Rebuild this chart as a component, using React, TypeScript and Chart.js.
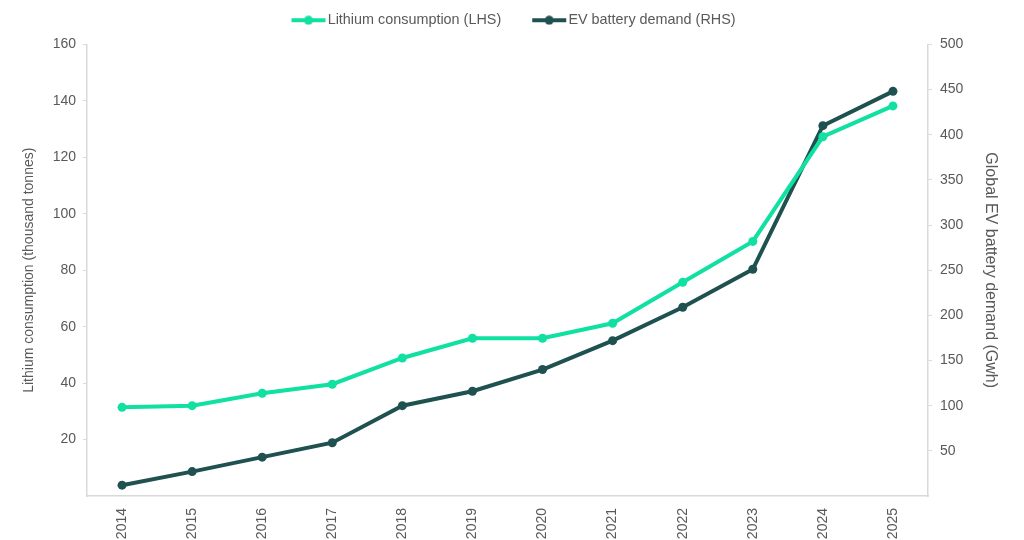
import { useEffect, useRef } from 'react';
import { Chart, registerables } from 'chart.js';

Chart.register(...registerables);

const years = ['2014', '2015', '2016', '2017', '2018', '2019', '2020', '2021', '2022', '2023', '2024', '2025'];
const lithiumConsumption = [31.4, 32, 36.4, 39.6, 48.9, 55.9, 55.9, 61.2, 75.7, 90.2, 127.3, 138.2];
const evBatteryDemand = [12, 27, 43, 59, 100, 116, 140, 172, 209, 251, 410, 448];

const leftTicks = [20, 40, 60, 80, 100, 120, 140, 160];
const rightTicks = [50, 100, 150, 200, 250, 300, 350, 400, 450, 500];

const LITHIUM_COLOR = '#10E0A2';
const EV_COLOR = '#1F5150';
const TEXT_COLOR = '#595959';
const AXIS_COLOR = '#D9D9D9';
const FONT = 'Liberation Sans, Arial, sans-serif';

// legend marker: line with a dot, left part of the image is blank to space the items
const MARK_BLANK = 19;
const MARK_LEN = 34;
const MARK_BOX = MARK_BLANK + 29;
const makeMarker = (color: string) => {
    const w = (MARK_BLANK + MARK_LEN - MARK_BOX / 2 + 2) * 2;
    const c = document.createElement('canvas');
    c.width = w;
    c.height = 10;
    const g = c.getContext('2d');
    if (g) {
        const x0 = w / 2 - MARK_BOX / 2 + MARK_BLANK;
        g.strokeStyle = color;
        g.lineWidth = 4;
        g.beginPath();
        g.moveTo(x0, 5);
        g.lineTo(x0 + MARK_LEN, 5);
        g.stroke();
        g.fillStyle = color;
        g.beginPath();
        g.arc(x0 + MARK_LEN / 2, 5, 4.5, 0, Math.PI * 2);
        g.fill();
    }
    return c;
};

// push the plot area down below the legend and nudge the legend row left
const legendSpacer = {
    id: 'legendSpacer',
    afterInit(chart: any) {
        const legend = chart.legend;
        if (!legend) return;
        const fit = legend.fit;
        legend.fit = function () {
            fit.call(this);
            this.height += 7;
            if (this.lineWidths && this.lineWidths.length) this.lineWidths[0] += 16;
        };
    },
};

const LithiumChart: React.FC = () => {
    const chartRef = useRef<HTMLCanvasElement>(null);

    useEffect(() => {
        document.body.style.margin = '0';
        const canvas = chartRef.current;
        if (!canvas) return;
        const ctx = canvas.getContext('2d');
        if (!ctx) return;

        const markers = [makeMarker(LITHIUM_COLOR), makeMarker(EV_COLOR)];

        const chart = new Chart(ctx, {
            type: 'line',
            data: {
                labels: years,
                datasets: [
                    {
                        label: 'Lithium consumption (LHS)',
                        data: lithiumConsumption,
                        borderColor: LITHIUM_COLOR,
                        backgroundColor: LITHIUM_COLOR,
                        borderWidth: 4,
                        pointRadius: 4.5,
                        pointBorderWidth: 0,
                        pointHoverRadius: 4.5,
                        tension: 0,
                        yAxisID: 'y',
                    },
                    {
                        label: 'EV battery demand (RHS)',
                        data: evBatteryDemand,
                        borderColor: EV_COLOR,
                        backgroundColor: EV_COLOR,
                        borderWidth: 4,
                        pointRadius: 4.5,
                        pointBorderWidth: 0,
                        pointHoverRadius: 4.5,
                        tension: 0,
                        yAxisID: 'y1',
                    },
                ],
            },
            plugins: [legendSpacer],
            options: {
                responsive: false,
                animation: false,
                layout: { padding: { top: 1, left: 0, right: 0, bottom: 0 } },
                plugins: {
                    tooltip: { enabled: false },
                    legend: {
                        position: 'top',
                        labels: {
                            color: TEXT_COLOR,
                            font: { family: FONT, size: 14.4 },
                            usePointStyle: true,
                            pointStyleWidth: MARK_BOX,
                            padding: 12,
                            boxHeight: 10,
                            generateLabels: (c) => {
                                const items = Chart.defaults.plugins.legend.labels.generateLabels(c);
                                items.forEach((it, i) => {
                                    it.pointStyle = markers[i];
                                });
                                return items;
                            },
                        },
                    },
                },
                scales: {
                    x: {
                        offset: true,
                        border: { display: true, color: AXIS_COLOR, width: 1.5 },
                        grid: { display: false },
                        ticks: {
                            color: TEXT_COLOR,
                            font: { family: FONT, size: 14 },
                            maxRotation: 90,
                            minRotation: 90,
                            padding: 4,
                        },
                        afterFit: (scale) => {
                            scale.height = 44;
                        },
                    },
                    y: {
                        position: 'left',
                        min: 0,
                        max: 160,
                        afterBuildTicks: (scale) => {
                            scale.ticks = leftTicks.map((v) => ({ value: v }));
                        },
                        border: { display: true, color: AXIS_COLOR, width: 1.5 },
                        grid: { display: true, drawOnChartArea: false, drawTicks: true, tickLength: 4, color: AXIS_COLOR },
                        ticks: {
                            color: TEXT_COLOR,
                            font: { family: FONT, size: 14 },
                            padding: 7,
                        },
                        title: {
                            display: true,
                            text: 'Lithium consumption (thousand tonnes)',
                            color: TEXT_COLOR,
                            font: { family: FONT, size: 14 },
                            padding: { top: 21, bottom: 4 },
                        },
                        afterFit: (scale) => {
                            scale.width = 87;
                        },
                    },
                    y1: {
                        position: 'right',
                        min: 0,
                        max: 500,
                        afterBuildTicks: (scale) => {
                            scale.ticks = rightTicks.map((v) => ({ value: v }));
                        },
                        border: { display: true, color: AXIS_COLOR, width: 1.5 },
                        grid: { display: true, drawOnChartArea: false, drawTicks: true, tickLength: 4, color: AXIS_COLOR },
                        ticks: {
                            color: TEXT_COLOR,
                            font: { family: FONT, size: 14 },
                            padding: 8,
                        },
                        title: {
                            display: true,
                            text: 'Global EV battery demand (Gwh)',
                            color: TEXT_COLOR,
                            font: { family: FONT, size: 16 },
                            padding: { top: 24, bottom: 4 },
                        },
                        afterFit: (scale) => {
                            scale.width = 96;
                        },
                    },
                },
            },
        });

        return () => {
            chart.destroy();
        };
    }, []);

    return (
        <div style={{ width: 1024, height: 540, background: '#ffffff' }}>
            <canvas ref={chartRef} width={1024} height={540} style={{ display: 'block' }}></canvas>
        </div>
    );
};

export default function App() {
    return <LithiumChart />;
}
